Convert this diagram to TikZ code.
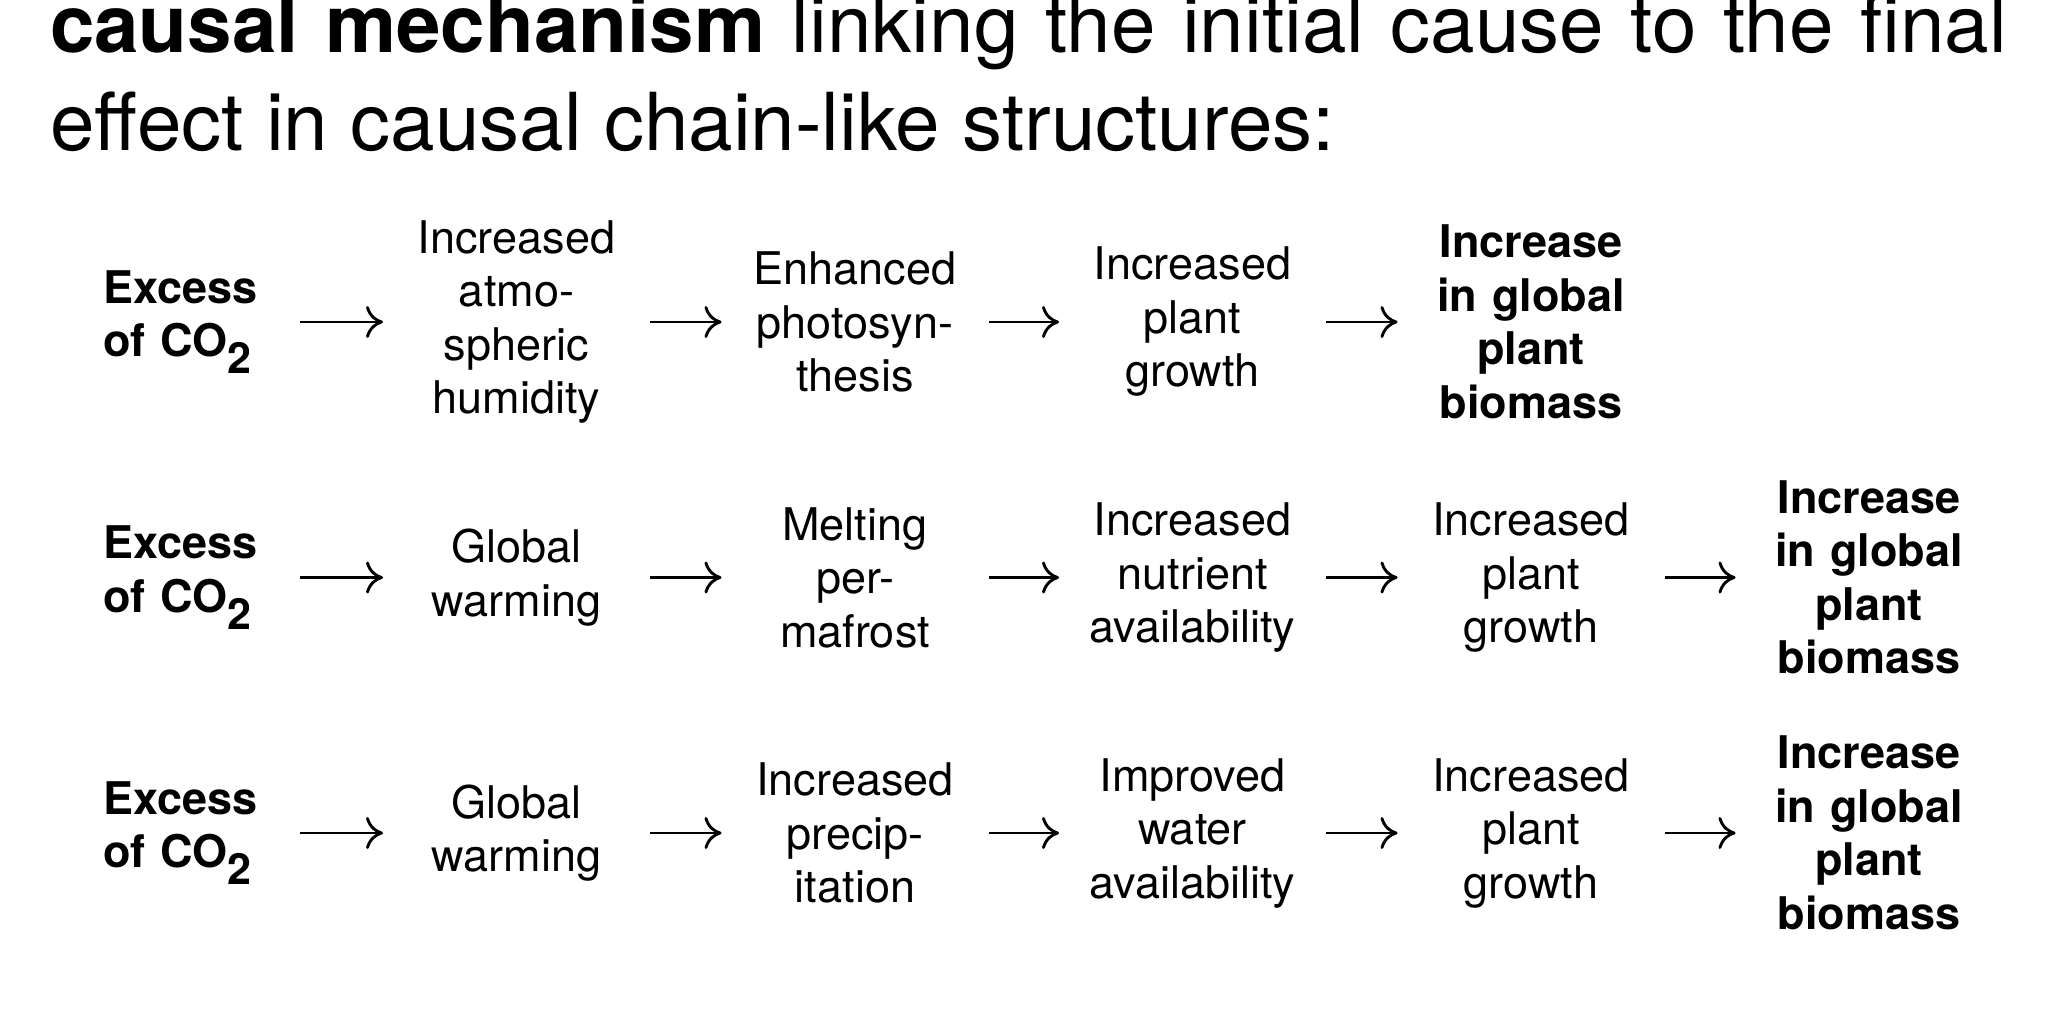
\documentclass[tikz,border=0pt]{standalone}
\usepackage{fontspec}
\setmainfont{TeX Gyre Heros}
\usetikzlibrary{arrows.meta}
\newcommand{\cosub}{CO\raisebox{-17pt}{\fontsize{43}{43}\selectfont 2}}
\begin{document}
\begin{tikzpicture}[x=1pt,y=-1pt,
  txt/.style={inner sep=0pt, outer sep=0pt, align=center, text width=267pt,
    font=\fontsize{45}{53.5}\selectfont},
  eff/.style={txt, font=\fontsize{45}{53.5}\selectfont\bfseries},
  cause/.style={inner sep=0pt, outer sep=0pt, align=left, text width=197pt, anchor=west,
    font=\fontsize{45}{53.5}\selectfont\bfseries},
  title/.style={inner sep=0pt, outer sep=0pt, anchor=base west,
    font=\fontsize{80}{97}\selectfont},
  arr/.style={line width=2.9pt, -{To[length=17pt,width=32pt]}}
]
\useasboundingbox (0,0) rectangle (2066,1030);

\node[title] (t1) at (50,53) {\makebox[1957pt][s]{\textbf{causal mechanism} linking the initial cause to the final}};
\node[title] (t2) at (50,150) {effect in causal chain-like structures:};

% row 1
\node[cause] (r1c1) at (103,322) {Excess\\of \cosub};
\node[txt] (r1c2) at (516.5,322) {Increased\\atmo-\\spheric\\humidity};
\node[txt] (r1c3) at (855,322) {Enhanced\\photosyn-\\thesis};
\node[txt] (r1c4) at (1192.5,322) {Increased\\plant\\growth};
\node[eff] (r1c5) at (1531,322) {Increase\\in global\\plant\\biomass};

% row 2
\node[cause] (r2c1) at (103,577.5) {Excess\\of \cosub};
\node[txt] (r2c2) at (516.5,577.5) {Global\\warming};
\node[txt] (r2c3) at (855,577.5) {Melting\\per-\\mafrost};
\node[txt] (r2c4) at (1192.5,577.5) {Increased\\nutrient\\availability};
\node[txt] (r2c5) at (1531,577.5) {Increased\\plant\\growth};
\node[eff] (r2c6) at (1869,577.5) {Increase\\in global\\plant\\biomass};

% row 3
\node[cause] (r3c1) at (103,833) {Excess\\of \cosub};
\node[txt] (r3c2) at (516.5,833) {Global\\warming};
\node[txt] (r3c3) at (855,833) {Increased\\precip-\\itation};
\node[txt] (r3c4) at (1192.5,833) {Improved\\water\\availability};
\node[txt] (r3c5) at (1531,833) {Increased\\plant\\growth};
\node[eff] (r3c6) at (1869,833) {Increase\\in global\\plant\\biomass};

\foreach \r in {1,2,3}{
  \draw[arr] (r\r c1.east) -- (r\r c2.west);
  \draw[arr] (r\r c2.east) -- (r\r c3.west);
  \draw[arr] (r\r c3.east) -- (r\r c4.west);
  \draw[arr] (r\r c4.east) -- (r\r c5.west);
}
\foreach \r in {2,3}{
  \draw[arr] (r\r c5.east) -- (r\r c6.west);
}
\end{tikzpicture}
\end{document}
